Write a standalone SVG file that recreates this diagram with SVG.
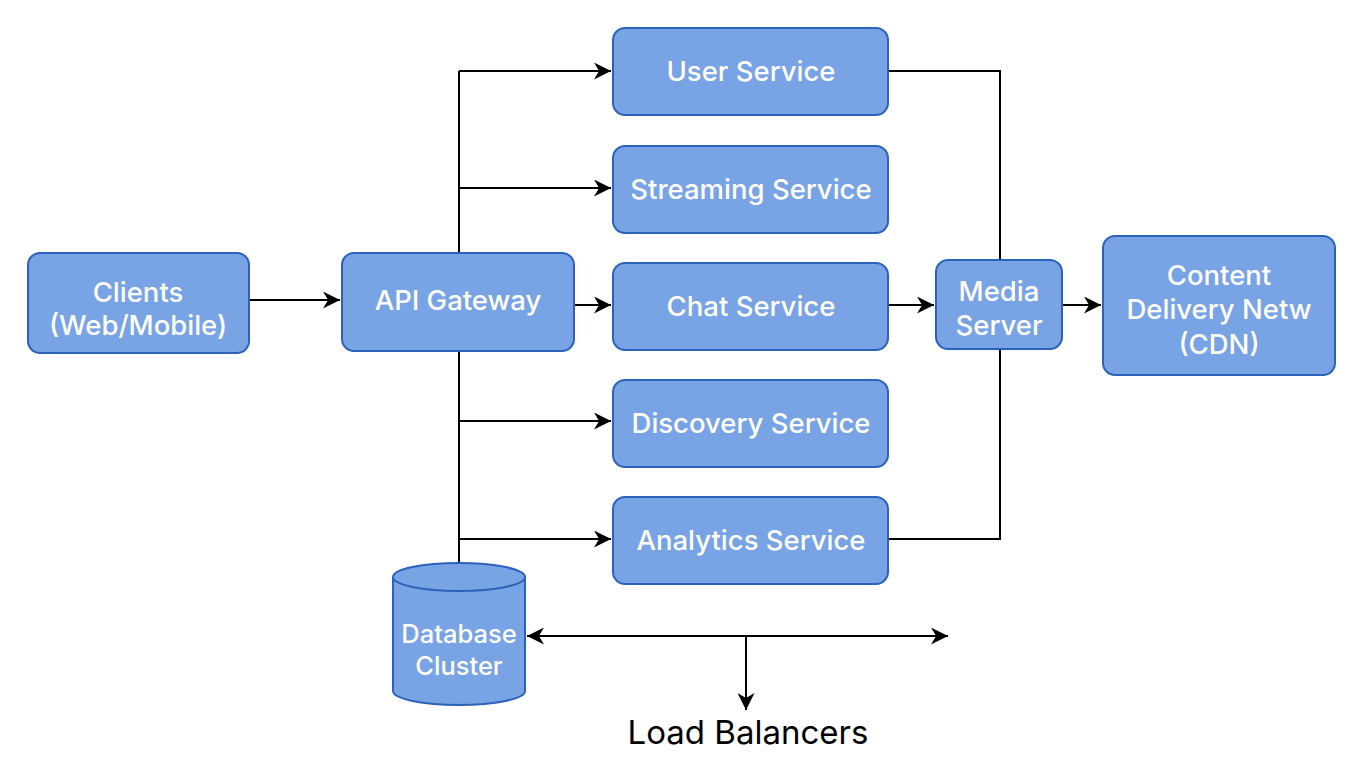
<svg xmlns="http://www.w3.org/2000/svg" width="1358" height="780" viewBox="0 0 1358 780">
<defs>
<marker id="ah" viewBox="0 0 10 10" refX="10" refY="5" markerWidth="17" markerHeight="17" markerUnits="userSpaceOnUse" orient="auto-start-reverse"><path d="M0,0 L10,5 L0,10 L3,5 z" fill="#000"/></marker>
<style>
.box{fill:#78A3E5;stroke:#2C62B9;stroke-width:2}
.t{font-family:Inter,"Liberation Sans",sans-serif;font-size:27.5px;font-weight:500;fill:#fff;text-anchor:middle;dominant-baseline:central}
.c{fill:none;stroke:#000;stroke-width:2}
</style>
</defs>
<rect width="1358" height="780" fill="#fff"/>
<g id="connectors">
<path class="c" d="M249,300 H340" marker-end="url(#ah)"/>
<path class="c" d="M459,252 V71"/>
<path class="c" d="M459,352 V563"/>
<path class="c" d="M459,71 H611" marker-end="url(#ah)"/>
<path class="c" d="M459,188 H611" marker-end="url(#ah)"/>
<path class="c" d="M459,421 H611" marker-end="url(#ah)"/>
<path class="c" d="M459,539 H611" marker-end="url(#ah)"/>
<path class="c" d="M574,305 H611" marker-end="url(#ah)"/>
<path class="c" d="M888,305 H934" marker-end="url(#ah)"/>
<path class="c" d="M1062,305 H1101" marker-end="url(#ah)"/>
<path class="c" d="M888,71 H1000 V260"/>
<path class="c" d="M888,539 H1000 V349"/>
<path class="c" d="M527,636 H948" marker-start="url(#ah)" marker-end="url(#ah)"/>
<path class="c" d="M746,636 V710" marker-end="url(#ah)"/>
</g>
<g id="clients"><rect class="box" x="28" y="253" width="221" height="100" rx="12"/><text class="t" x="138" y="292">Clients</text><text class="t" x="138" y="325">(Web/Mobile)</text></g>
<g id="api-gateway"><rect class="box" x="342" y="253" width="232" height="98" rx="12"/><text class="t" x="458" y="300">API Gateway</text></g>
<g id="user-service"><rect class="box" x="613" y="28" width="275" height="87" rx="12"/><text class="t" x="751" y="71">User Service</text></g>
<g id="streaming-service"><rect class="box" x="613" y="146" width="275" height="87" rx="12"/><text class="t" x="751" y="189">Streaming Service</text></g>
<g id="chat-service"><rect class="box" x="613" y="263" width="275" height="87" rx="12"/><text class="t" x="751" y="306">Chat Service</text></g>
<g id="discovery-service"><rect class="box" x="613" y="380" width="275" height="87" rx="12"/><text class="t" x="751" y="423">Discovery Service</text></g>
<g id="analytics-service"><rect class="box" x="613" y="497" width="275" height="87" rx="12"/><text class="t" x="751" y="540">Analytics Service</text></g>
<g id="media-server"><rect class="box" x="936" y="260" width="126" height="89" rx="12"/><text class="t" x="999" y="291">Media</text><text class="t" x="999" y="325">Server</text></g>
<g id="cdn"><rect class="box" x="1103" y="236" width="232" height="139" rx="12"/><text class="t" x="1219" y="275">Content</text><text class="t" x="1219" y="309">Delivery Netw</text><text class="t" x="1219" y="344">(CDN)</text></g>
<g id="database-cluster">
<path class="box" d="M393,577 V691 A66,14 0 0 0 525,691 V577 A66,14 0 0 0 393,577 z"/>
<path class="box" d="M393,577 A66,14 0 0 0 525,577"/>
<text class="t" x="459" y="633" style="font-size:25.5px">Database</text><text class="t" x="459" y="665" style="font-size:25.5px">Cluster</text>
</g>
<g id="load-balancers"><text x="748" y="732" style="font-family:Inter,'Liberation Sans',sans-serif;font-size:33px;fill:#000;text-anchor:middle;dominant-baseline:central">Load Balancers</text></g>
</svg>
